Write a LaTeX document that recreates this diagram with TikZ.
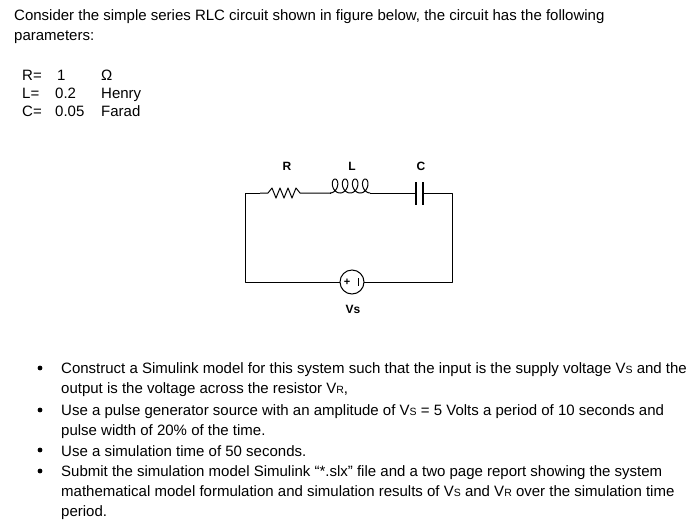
\documentclass[tikz,border=0pt]{standalone}
\usepackage{fontspec}
\setmainfont{Liberation Sans}
\begin{document}
\begin{tikzpicture}[x=1pt,y=-1pt,
  txt/.style={anchor=base west,inner sep=0pt,font=\fontsize{15}{17}\selectfont},
  lbl/.style={inner sep=0pt,font=\fontsize{12}{14}\selectfont\bfseries},
  wire/.style={line width=1pt,line join=round}]
\useasboundingbox (0,0) rectangle (700,525);
\newcommand{\sub}[1]{{\fontsize{10.5}{12}\selectfont #1}}
\node[txt] (t1) at (14,20) {Consider the simple series RLC circuit shown in figure below, the circuit has the following};
\node[txt] (t2) at (14,40) {parameters:};
\node[txt] (r1) at (22,80) {R=}; \node[txt] (r2) at (57,80) {1}; \node[txt] (r3) at (101,80) {Ω};
\node[txt] (l1) at (22,98) {L=}; \node[txt] (l2) at (55,98) {0.2}; \node[txt] (l3) at (101,98) {Henry};
\node[txt] (c1) at (22,116) {C=}; \node[txt] (c2) at (55,116) {0.05}; \node[txt] (c3) at (101,116) {Farad};
% circuit
\coordinate (tl) at (245,193); \coordinate (tr) at (452,193);
\coordinate (bl) at (245,282); \coordinate (br) at (452,282);
\draw[wire] (260,193) -- (tl) -- (bl) -- (340,282);
\draw[wire] (364,282) -- (br) -- (tr) -- (423,193);
\draw[wire] (260,193) -- (268,193) -- (272,188) -- (276,198) -- (280,188) -- (284,198) -- (288,188) -- (292,198) -- (296,188) -- (300,193) -- (308,193) -- (330,193);
\draw[wire,domain=pi:9*pi,samples=240,variable=\t] plot ({325+1.6*\t-5*sin(\t r)},{186-7*cos(\t r)});
\draw[wire] (330,193) -- ({325+1.6*pi},193);
\draw[wire] ({325+1.6*9*pi},193) -- (416,193);
\draw[line width=2pt] (416,182) -- (416,205);
\draw[line width=2pt] (423,182) -- (423,205);
\node[circle,draw,line width=1pt,minimum size=24pt,inner sep=0pt] (vs) at (352,282) {};
\node[inner sep=0pt,font=\fontsize{11}{12}\selectfont\bfseries] (plus) at (347,282) {+};
\draw[wire] (358,278) -- (358,286);
\node[lbl] (lr) at (287,166) {R};
\node[lbl] (ll) at (352,166) {L};
\node[lbl] (lc) at (421,166) {C};
\node[lbl] (lv) at (353,309) {Vs};
% bullets
\foreach \y in {373,415,455,476} {\fill (40,\y-5) circle (2.4pt);}
\node[txt] (b1) at (61,373) {Construct a Simulink model for this system such that the input is the supply voltage V\sub{S} and the};
\node[txt] (b1b) at (61,393) {output is the voltage across the resistor V\sub{R},};
\node[txt] (b2) at (61,415) {Use a pulse generator source with an amplitude of V\sub{S} = 5 Volts a period of 10 seconds and};
\node[txt] (b2b) at (61,435) {pulse width of 20\% of the time.};
\node[txt] (b3) at (61,456) {Use a simulation time of 50 seconds.};
\node[txt] (b4) at (61,476) {Submit the simulation model Simulink “*.slx” file and a two page report showing the system};
\node[txt] (b4b) at (61,496) {mathematical model formulation and simulation results of V\sub{S} and V\sub{R} over the simulation time};
\node[txt] (b4c) at (61,516) {period.};
\end{tikzpicture}
\end{document}
